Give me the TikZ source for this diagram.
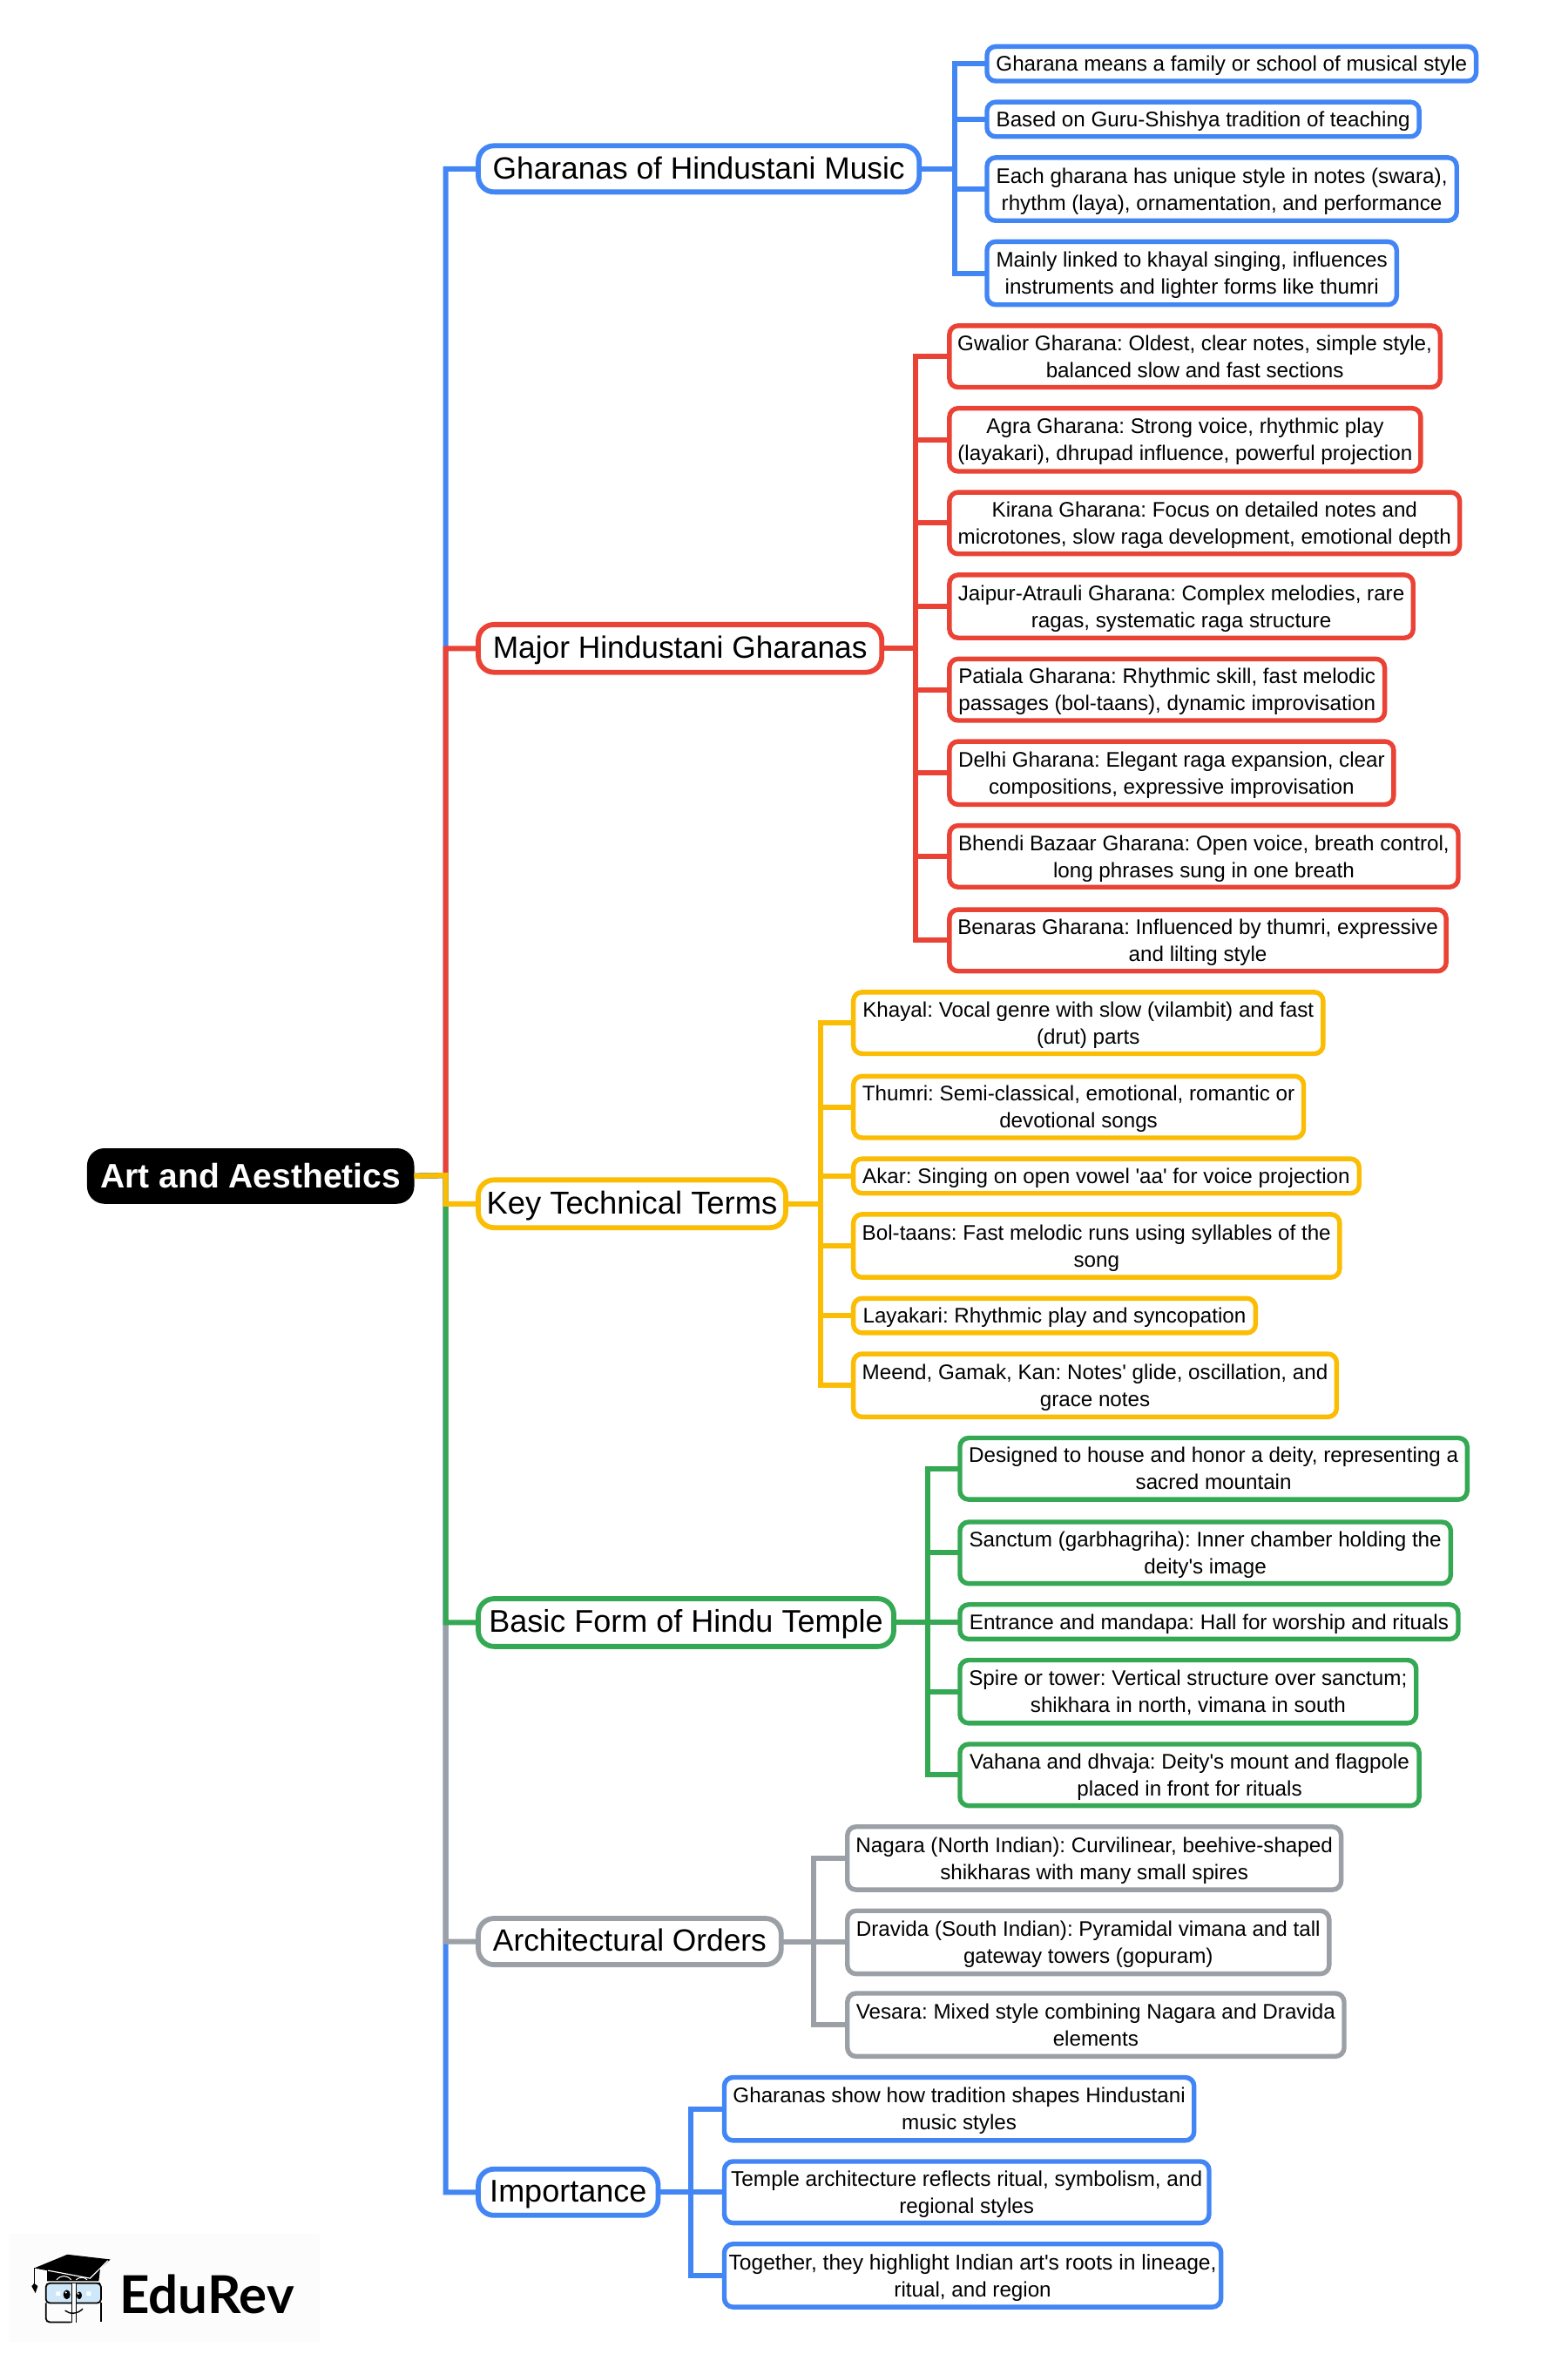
\documentclass[tikz,border=0pt]{standalone}
\usepackage{fontspec}
\setmainfont{Liberation Sans}
\newfontfamily\logofont{Lato}
\definecolor{cblue}{HTML}{4285F4}
\definecolor{cred}{HTML}{EA4335}
\definecolor{cyel}{HTML}{FBBC04}
\definecolor{cgrn}{HTML}{34A853}
\definecolor{cgry}{HTML}{9AA0A6}
\definecolor{bookblue}{HTML}{CFE8F9}
\tikzset{
 conn/.style={line width=3pt,line join=miter,line cap=butt},
 leafnode/.style={line width=2.7pt,fill=white,rounded corners=5pt,inner sep=0pt,outer sep=0pt,align=center,text=black,font=\fontsize{12.1}{15.5}\selectfont\frenchspacing},
 branchnode/.style={line width=2.9pt,fill=white,rounded corners=9pt,inner sep=0pt,outer sep=0pt,align=center,text=black,font=\fontsize{17.65}{22}\selectfont},
 rootnode/.style={fill=black,rounded corners=10pt,inner sep=0pt,outer sep=0pt,align=center,text=white,font=\fontsize{19.5}{24}\selectfont\bfseries},
}
\newcommand\leafbox[9]{%
 \pgfmathsetmacro\bx{(#5+#7)/2-0.4}\pgfmathsetmacro\by{(#6+#8)/2}%
 \node[leafnode,draw=#4,minimum width={(#7-#5-2)*0.8614pt},minimum height={(#8-#6-2)*0.8614pt}] (#1) at (\bx,\by) {\rule{0pt}{13.25pt}#9\strut};
 \draw[conn,draw=#4] (#2.east) -- (#2.east -| #3) |- (#1.west);
}
\newcommand\branchbox[7]{%
 \pgfmathsetmacro\bx{(#3+#5)/2-0.4}\pgfmathsetmacro\by{(#4+#6)/2}%
 \node[branchnode,draw=#2,minimum width={(#5-#3-2.2)*0.8614pt},minimum height={(#6-#4-2.2)*0.8614pt}] (#1) at (\bx,\by) {\rule{0pt}{18pt}#7\strut};
}
\begin{document}
\begin{tikzpicture}[x=0.8614pt,y=-0.8614pt]
\useasboundingbox (0,0) rectangle (1044.2,1568.3);
\coordinate (tm) at (297,783);
\coordinate (tb) at (636,0);
\coordinate (tr) at (610,0);
\coordinate (ty) at (547,0);
\coordinate (tg) at (618,0);
\coordinate (tk) at (542,0);
\coordinate (ti) at (460,0);
% root and branches
\node[rootnode,minimum width={218*0.8614pt},minimum height={37*0.8614pt}] (root) at (167,783.5) {Art and Aesthetics};
\branchbox{bgh}{cblue}{318}{96}{614}{129}{Gharanas of Hindustani Music}
\branchbox{bma}{cred}{318}{415}{589}{449}{Major Hindustani Gharanas}
\branchbox{bke}{cyel}{318}{785}{525}{819}{\fontsize{18.2}{22}\selectfont Key Technical Terms}
\branchbox{bba}{cgrn}{318}{1064}{597}{1098}{\fontsize{18}{22}\selectfont Basic Form of Hindu Temple}
\branchbox{bar}{cgry}{318}{1277}{522}{1310}{Architectural Orders}
\branchbox{bim}{cblue}{318}{1444}{440}{1477}{\fontsize{18}{22}\selectfont Importance}
% main connectors
\draw[conn,draw=cblue] (root.east) -- (tm) |- (bgh.west);
\draw[conn,draw=cred] (root.east) -- (tm) |- (bma.west);
\draw[conn,draw=cblue] (root.east) -- (tm) |- (bim.west);
\draw[conn,draw=cgry] (root.east) -- (tm) |- (bar.west);
\draw[conn,draw=cgrn] (root.east) -- (tm) |- (bba.west);
\draw[conn,draw=cyel] (root.east) -- (tm) |- (bke.west);
% blue group
\leafbox{a1}{bgh}{tb}{cblue}{657}{30}{985}{55}{Gharana means a family or school of musical style}
\leafbox{a2}{bgh}{tb}{cblue}{657}{67}{947}{92}{Based on Guru-Shishya tradition of teaching}
\leafbox{a3}{bgh}{tb}{cblue}{657}{104}{972}{148}{Each gharana has unique style in notes (swara),\\rhythm (laya), ornamentation, and performance}
\leafbox{a4}{bgh}{tb}{cblue}{657}{160}{932}{204}{Mainly linked to khayal singing, influences\\instruments and lighter forms like thumri}
% red group
\leafbox{b1}{bma}{tr}{cred}{632}{216}{961}{259}{Gwalior Gharana: Oldest, clear notes, simple style,\\balanced slow and fast sections}
\leafbox{b2}{bma}{tr}{cred}{632}{271}{948}{315}{Agra Gharana: Strong voice, rhythmic play\\(layakari), dhrupad influence, powerful projection}
\leafbox{b3}{bma}{tr}{cred}{632}{327}{974}{370}{Kirana Gharana: Focus on detailed notes and\\microtones, slow raga development, emotional depth}
\leafbox{b4}{bma}{tr}{cred}{632}{382}{943}{426}{Jaipur-Atrauli Gharana: Complex melodies, rare\\ragas, systematic raga structure}
\leafbox{b5}{bma}{tr}{cred}{632}{438}{924}{481}{Patiala Gharana: Rhythmic skill, fast melodic\\passages (bol-taans), dynamic improvisation}
\leafbox{b6}{bma}{tr}{cred}{632}{493}{930}{537}{Delhi Gharana: Elegant raga expansion, clear\\compositions, expressive improvisation}
\leafbox{b7}{bma}{tr}{cred}{632}{549}{973}{592}{Bhendi Bazaar Gharana: Open voice, breath control,\\long phrases sung in one breath}
\leafbox{b8}{bma}{tr}{cred}{632}{605}{965}{648}{Benaras Gharana: Influenced by thumri, expressive\\and lilting style}
% yellow group
\leafbox{c1}{bke}{ty}{cyel}{568}{660}{883}{703}{Khayal: Vocal genre with slow (vilambit) and fast\\(drut) parts}
\leafbox{c2}{bke}{ty}{cyel}{568}{716}{870}{759}{Thumri: Semi-classical, emotional, romantic or\\devotional songs}
\leafbox{c3}{bke}{ty}{cyel}{568}{771}{907}{796}{Akar: Singing on open vowel \textquotesingle aa\textquotesingle{} for voice projection}
\leafbox{c4}{bke}{ty}{cyel}{568}{808}{894}{852}{Bol-taans: Fast melodic runs using syllables of the\\song}
\leafbox{c5}{bke}{ty}{cyel}{568}{864}{838}{889}{Layakari: Rhythmic play and syncopation}
\leafbox{c6}{bke}{ty}{cyel}{568}{901}{892}{945}{Meend, Gamak, Kan: Notes\textquotesingle{} glide, oscillation, and\\grace notes}
% green group
\leafbox{d1}{bba}{tg}{cgrn}{639}{957}{979}{1000}{Designed to house and honor a deity, representing a\\sacred mountain}
\leafbox{d2}{bba}{tg}{cgrn}{639}{1013}{968}{1056}{Sanctum (garbhagriha): Inner chamber holding the\\deity\textquotesingle s image}
\leafbox{d3}{bba}{tg}{cgrn}{639}{1068}{973}{1093}{Entrance and mandapa: Hall for worship and rituals}
\leafbox{d4}{bba}{tg}{cgrn}{639}{1105}{945}{1149}{Spire or tower: Vertical structure over sanctum;\\shikhara in north, vimana in south}
\leafbox{d5}{bba}{tg}{cgrn}{639}{1161}{947}{1204}{Vahana and dhvaja: Deity\textquotesingle s mount and flagpole\\placed in front for rituals}
% grey group
\leafbox{e1}{bar}{tk}{cgry}{564}{1216}{895}{1260}{Nagara (North Indian): Curvilinear, beehive-shaped\\shikharas with many small spires}
\leafbox{e2}{bar}{tk}{cgry}{564}{1272}{887}{1316}{Dravida (South Indian): Pyramidal vimana and tall\\gateway towers (gopuram)}
\leafbox{e3}{bar}{tk}{cgry}{564}{1327}{897}{1371}{Vesara: Mixed style combining Nagara and Dravida\\elements}
% importance group
\leafbox{f1}{bim}{ti}{cblue}{482}{1383}{797}{1427}{Gharanas show how tradition shapes Hindustani\\music styles}
\leafbox{f2}{bim}{ti}{cblue}{482}{1439}{807}{1482}{\fontsize{12.2}{15.5}\selectfont Temple architecture reflects ritual, symbolism, and\\regional styles}
\leafbox{f3}{bim}{ti}{cblue}{482}{1494}{815}{1538}{\fontsize{12.3}{15.5}\selectfont Together, they highlight Indian art\textquotesingle s roots in lineage,\\ritual, and region}
% logo
\fill[black!1] (6,1488) rectangle (213,1560);
\begin{scope}[shift={(0,1451.1)},x=0.16667pt,y=-0.16667pt]
 \fill[black] (118,310) -- (232,263) -- (380,280) -- (345,312) -- (340,355) -- (162,355) -- (162,318) -- cycle;
 \draw[white,line width=0.6pt] (165,318) -- (310,345) -- (372,284);
 \draw[white,line width=0.5pt] (195,350) .. controls (210,333) and (230,333) .. (245,350);
 \draw[white,line width=0.5pt] (262,350) .. controls (272,340) and (290,340) .. (300,350);
 \draw[black,line width=0.6pt] (118,310) -- (118,368);
 \fill[black] (109,372) -- (118,362) -- (130,372) -- (122,396) -- cycle;
 \filldraw[fill=bookblue,draw=black,line width=0.9pt,rounded corners=2.2pt] (158,362) rectangle (348,430);
 \draw[black,line width=0.9pt,rounded corners=2.2pt] (245,496) -- (158,496) -- (158,430);
 \draw[black,line width=0.9pt,rounded corners=1.5pt] (348,430) -- (348,496) ;
 \fill[white] (248,360) rectangle (262,498);
 \draw[black,line width=0.8pt] (248,360) -- (248,498) (262,360) -- (262,498);
 \draw[black,line width=0.7pt] (248,362) -- (345,362);
 \fill[black] (230,401) ellipse [x radius=12,y radius=16];
 \fill[black] (273,404) ellipse [x radius=9,y radius=13];
 \fill[white] (227,394) circle [radius=3.5] (270,398) circle [radius=3];
 \fill[white] (193,391) rectangle (208,404) (298,391) rectangle (313,404);
 \draw[black,line width=0.7pt] (224,456) .. controls (240,470) and (268,468) .. (285,450);
 \node[anchor=base west,inner sep=0pt,font=\logofont\bfseries\fontsize{30}{30}\selectfont] (logo) at (411,465) {EduRev};
\end{scope}
\end{tikzpicture}
\end{document}
